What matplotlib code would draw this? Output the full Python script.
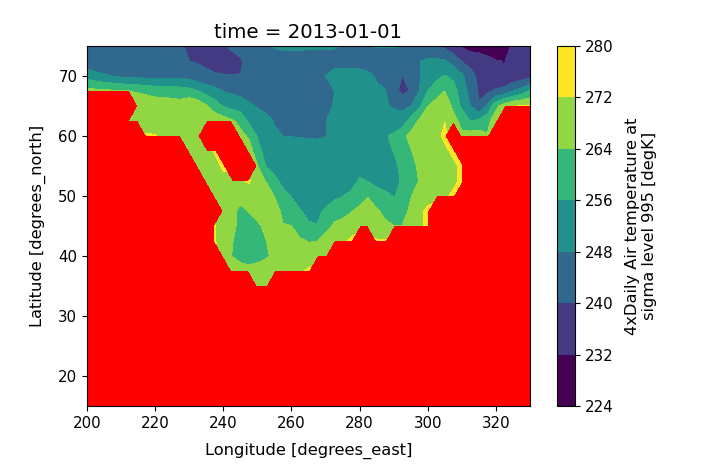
import numpy as np
import matplotlib
matplotlib.use("Agg")
import matplotlib.pyplot as plt
from matplotlib.colors import ListedColormap, BoundaryNorm

n = np.nan
lons = np.arange(200, 330.1, 2.5)
lats = np.arange(75, 14.9, -2.5)
levels = [224, 232, 240, 248, 256, 264, 272, 280]
xticks = [200, 220, 240, 260, 280, 300, 320]
yticks = [20, 30, 40, 50, 60, 70]

lat75 = [242,242.5,243,243,243,243,243,243,243,243,242.5,241,
         238.5,238,238,238,239,241.5, 243,244,245,247,
         248.5,249,249,249,249,249,249,249, 247.5,247.5,247.5,247.9,
         248.5,248.5,248.5,248.2, 247,245,243,240.5,238,235,
         231,229,229,228,227,229.5,233,234,236]
lat72 = [241.5]*12 + [240,239.5,238.5,237.5,236.5,237,239,
         242.5,243,244,245,245.5,245.5,245.5,245,245,244.5,
         244,244,244,244,243.5,243.5,243,243,242,242,
         247.9,249,249.5,248.7,245,239.5,237,235.5,234,232.2,231.9,233,234,235]
lat70 = [253.3,250.5,249,248,246.5,246,246,245.5,245.5,245.5,246,246,
         245,242.4,241.5,240.8,240.5,240.2,240.2,
         241.5,242.5,243.5,244,244.5,245,245,245.5,246,247.9,
         251.5,252,252,251.5,250,247,245,242,239.9,241,
         247.5,250.5,254,256.5,254,249.5,243,238,236,234.5,232.2,234,235.5,237]
lat67 = [266.7,266,265.5,265,264.5,264,263,262,261,260.5,260,259.5,
         258.6,256.3,253,250.5,247.6,246.5,245.5,
         245,245,245,245,245,245,245,245.5,246,246.5,
         247.8,250,251,251,250.5,249.5,248.3,243,237.5,240.5,
         248,256,260,263.9,260,251,246,239,238.7,241,243,248,251,257]
lat65 = [n]*6 + [270.5,269.5,268.5,269,268,267.5,
         271,269,264.7,260,255.5,253.5,252,
         249.1,247.5,246.5,246,246,246,246,246,246,246,
         248.5,250,251.5,252,252,251,249,247,246.5,247.8,
         254,263.8,267.5,270,262,254.5,248,240.5,249,262,268,271.5,272.5,272.6]
lat62 = [n]*5 + [268,269,270,270,270,270,270,270,270,
         270,269,268,265,262,
         254.5,251,249.5,247.7,247,247,246.5,246.5,246.8,247.8,
         250,251,252,253,253,253,252,252,251,259,
         265,268,269,271.8,267,261,255.8,258,262,268] + [n]*4
lat60 = [n]*7 + [272.5,272.2,270.5,270,270,270,271] + [n]*4 + [
         266,263,255.5,252,248.7,248,247.9,247.8,247.7,247.6,247.8,
         251,252,252,252.5,253,253.5,255.5,257,262,266,
         267,268,270,273.5, n, 266,268,268,264.5] + [n]*5
lat57 = [n]*12 + [270,270,270.5,272.5] + [n]*3 + [
         268,259,253,250.5,250,250,249.5,249.5,249.5,250,
         251,252,252,252.5,253,253.5,254,256.2,259.5,263.5,
         267,268,270,270.5,273.5] + [n]*9
lat55 = [n]*13 + [270,270,270,273] + [n]*3 + [
         264.5,255.8,253,252,252,251.5,251,251,251,
         251,252,252,252.5,253,253.5,254,254.5,257.5,262,
         265,268,270,270,270.5,273.5] + [n]*8
lat52 = [n]*14 + [270,270,270,270.5,271,273,267,263.8,
         258,254,252.5,252,252,252,252,252,252,252.5,
         257,255.8,254.5,254,254.5,256.5,261,
         264.3,268,270,270,271,273] + [n]*8
lat50 = [n]*15 + [271,270,270,266,267,267,267,
         263.8,258,255.7,254,253,252.5,252,254,255.8,258,
         260,263.5,258,257,255.8,257,263.5,
         268,270,271,271.3,272.8] + [n]*9
lat47 = [n]*16 + [268,266,262.5,264.3,267,268,268,
         262,258.5,256.3,255,254.5,257,261,262,263.5,
         266,268,265.2,261.5,258,260,266,271,273] + [n]*12
lat45 = [n]*15 + [272.5,268,265,263,260.5,262.5,266,268,264.5,264,
         260,256.5,256.2,261,265,266,268,270,270,
         268,266,264.2,264.2,269,271,273] + [n]*12
lat42 = [n]*15 + [272.5,268,264.5,261,260,260.5,263.7,268,268,265.5,
         265,263.6,263.9,267,270,270,273.5, n, n, 272.5,272.5] + [n]*17
lat40 = [n]*16 + [270,263.9,262,261,261.5,263.5,264.8,268,268,268,268,268.5,270] + [n]*24
lat37 = [n]*17 + [268,266.5,266,267,266,268,270,270,271,273] + [n]*26
lat35 = [n]*20 + [268,268] + [n]*31
lat_south = [n]*53

rows = [lat75, lat72, lat70, lat67, lat65, lat62, lat60, lat57, lat55, lat52,
        lat50, lat47, lat45, lat42, lat40, lat37, lat35] + [lat_south]*8
air = np.array(rows, dtype=float)

colors = [matplotlib.colormaps["viridis"](v) for v in np.linspace(0, 1, len(levels) - 1)]
cmap = ListedColormap(colors)
norm = BoundaryNorm(levels, cmap.N)

W, H = 727, 475
LABEL = 11.7
TICK = 10.8
fig = plt.figure(figsize=(W / 100, H / 100), dpi=100, facecolor="white")
ax = fig.add_axes([87 / W, 1 - 406 / H, (530 - 87) / W, (406 - 46) / H], facecolor="red")
cs = ax.contourf(lons, lats, air, levels=levels, cmap=cmap, norm=norm)
ax.set_xlim(200, 330)
ax.set_ylim(15, 75)
ax.set_xticks(xticks)
ax.set_yticks(yticks)
ax.tick_params(labelsize=TICK)
ax.set_xlabel("Longitude [degrees_east]", fontsize=LABEL, labelpad=9)
ax.set_ylabel("Latitude [degrees_north]", fontsize=LABEL, labelpad=9)
ax.set_title("time = 2013-01-01", fontsize=14.2)

cax = fig.add_axes([557 / W, 1 - 406 / H, (575 - 557) / W, (406 - 46) / H])
cb = fig.colorbar(cs, cax=cax, ticks=levels)
cb.ax.tick_params(labelsize=TICK)
cb.set_label("4xDaily Air temperature at\nsigma level 995 [degK]", fontsize=LABEL, labelpad=8)

fig.savefig("out.png", dpi=100)
